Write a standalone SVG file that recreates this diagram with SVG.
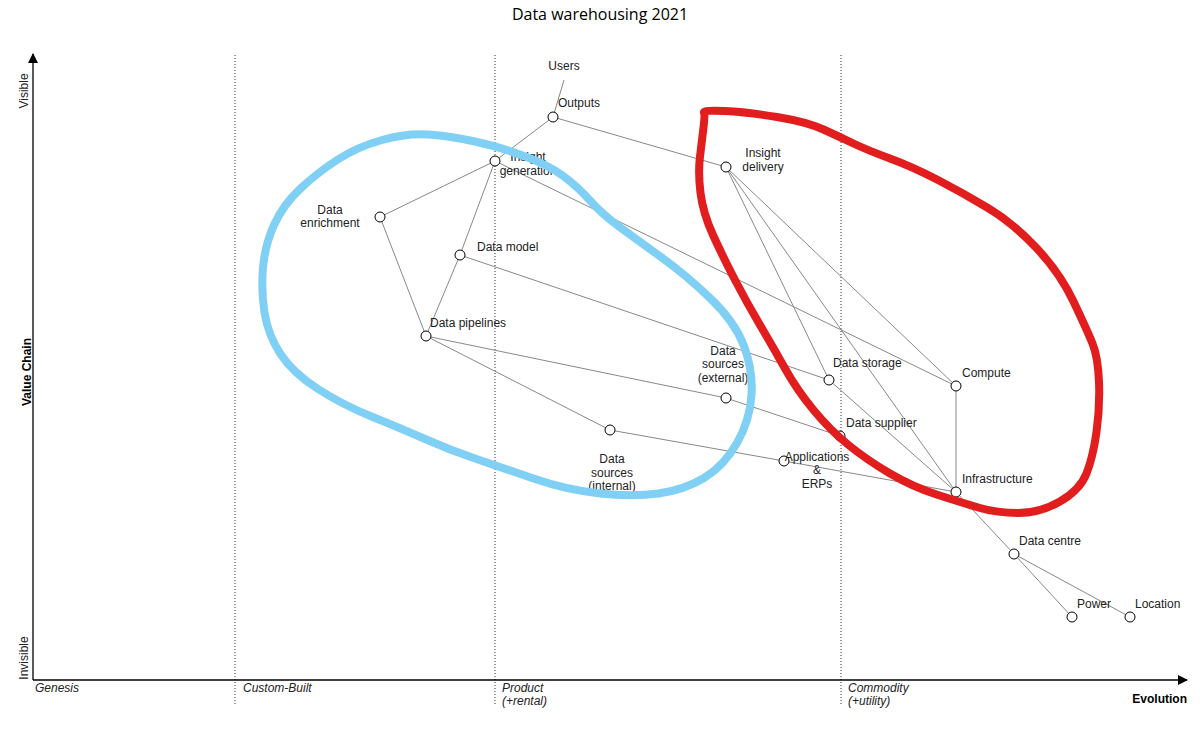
<svg xmlns="http://www.w3.org/2000/svg" width="1200" height="731" viewBox="0 0 1200 731">
<style>
  .lbl { font-family: "Liberation Sans", Arial, sans-serif; font-size: 12px; fill: #222; }
  .mid { text-anchor: middle; }
  .ax { font-family: "Liberation Sans", Arial, sans-serif; font-size: 12px; fill: #222; font-style: italic; }
  .axb { font-family: "Liberation Sans", Arial, sans-serif; font-size: 12px; fill: #000; font-weight: bold; }
  .edge { stroke: #888; stroke-width: 1; fill: none; }
  .node { fill: #fff; stroke: #000; stroke-width: 1; }
  .dot { stroke: #333; stroke-width: 1; stroke-dasharray: 1 2; fill: none; }
  .axis { stroke: #000; stroke-width: 1.3; fill: none; }
</style>
<defs>
  <marker id="arr" viewBox="0 0 10 10" refX="9" refY="5" markerWidth="10" markerHeight="10" markerUnits="userSpaceOnUse" orient="auto">
    <path d="M0,0 L10,5 L0,10 Z" fill="#000"/>
  </marker>
</defs>
<rect width="1200" height="731" fill="#fff"/>
<text x="600" y="20" text-anchor="middle" font-family="'Open Sans', 'Noto Sans', sans-serif" font-size="16" fill="#000">Data warehousing 2021</text>

<g id="axes">
  <line class="dot" x1="235" y1="55" x2="235" y2="705"/>
  <line class="dot" x1="495" y1="55" x2="495" y2="705"/>
  <line class="dot" x1="841" y1="55" x2="841" y2="705"/>
  <line class="axis" x1="33" y1="680" x2="33" y2="54" marker-end="url(#arr)"/>
  <line class="axis" x1="33" y1="680" x2="1187" y2="680" marker-end="url(#arr)"/>
  <text class="lbl mid" transform="translate(28,91) rotate(-90)">Visible</text>
  <text class="axb" text-anchor="middle" transform="translate(31,372) rotate(-90)">Value Chain</text>
  <text class="lbl mid" transform="translate(28,658) rotate(-90)">Invisible</text>
  <text class="ax" x="35" y="692">Genesis</text>
  <text class="ax" x="243" y="692">Custom-Built</text>
  <text class="ax" x="502" y="692">Product</text>
  <text class="ax" x="502" y="705">(+rental)</text>
  <text class="ax" x="848" y="692">Commodity</text>
  <text class="ax" x="848" y="705">(+utility)</text>
  <text class="axb" x="1187" y="703" text-anchor="end">Evolution</text>
</g>

<g id="connectors">
  <line class="edge" x1="564" y1="80" x2="553" y2="117"/>
  <line class="edge" x1="553" y1="117" x2="495" y2="161"/>
  <line class="edge" x1="553" y1="117" x2="726" y2="167"/>
  <line class="edge" x1="495" y1="161" x2="380" y2="217"/>
  <line class="edge" x1="495" y1="161" x2="460" y2="255"/>
  <line class="edge" x1="495" y1="161" x2="956" y2="386"/>
  <line class="edge" x1="380" y1="217" x2="426" y2="336"/>
  <line class="edge" x1="460" y1="255" x2="426" y2="336"/>
  <line class="edge" x1="460" y1="255" x2="829" y2="380"/>
  <line class="edge" x1="426" y1="336" x2="726" y2="398"/>
  <line class="edge" x1="426" y1="336" x2="610" y2="430"/>
  <line class="edge" x1="726" y1="398" x2="840" y2="436"/>
  <line class="edge" x1="610" y1="430" x2="784" y2="461"/>
  <line class="edge" x1="784" y1="461" x2="956" y2="492"/>
  <line class="edge" x1="726" y1="167" x2="829" y2="380"/>
  <line class="edge" x1="726" y1="167" x2="956" y2="492"/>
  <line class="edge" x1="726" y1="167" x2="956" y2="386"/>
  <line class="edge" x1="829" y1="380" x2="956" y2="492"/>
  <line class="edge" x1="956" y1="386" x2="956" y2="492"/>
  <line class="edge" x1="956" y1="492" x2="1014" y2="554"/>
  <line class="edge" x1="1014" y1="554" x2="1072" y2="617"/>
  <line class="edge" x1="1014" y1="554" x2="1130" y2="617"/>
</g>

<g id="users"><text class="lbl mid" x="564" y="70">Users</text></g>
<g id="outputs"><circle class="node" cx="553" cy="117" r="5"/><text class="lbl" x="558" y="107">Outputs</text></g>
<g id="insight-generation"><circle class="node" cx="495" cy="161" r="5"/><text class="lbl mid" x="528" y="161">Insight</text><text class="lbl mid" x="528" y="175">generation</text></g>
<g id="insight-delivery"><circle class="node" cx="726" cy="167" r="5"/><text class="lbl mid" x="763" y="157">Insight</text><text class="lbl mid" x="763" y="171">delivery</text></g>
<g id="data-enrichment"><circle class="node" cx="380" cy="217" r="5"/><text class="lbl mid" x="330" y="214">Data</text><text class="lbl mid" x="330" y="227">enrichment</text></g>
<g id="data-model"><circle class="node" cx="460" cy="255" r="5"/><text class="lbl" x="477" y="251">Data model</text></g>
<g id="data-pipelines"><circle class="node" cx="426" cy="336" r="5"/><text class="lbl" x="430" y="327">Data pipelines</text></g>
<g id="data-storage"><circle class="node" cx="829" cy="380" r="5"/><text class="lbl" x="833" y="367">Data storage</text></g>
<g id="compute"><circle class="node" cx="956" cy="386" r="5"/><text class="lbl" x="962" y="377">Compute</text></g>
<g id="data-sources-external"><circle class="node" cx="726" cy="398" r="5"/><text class="lbl mid" x="723" y="355">Data</text><text class="lbl mid" x="723" y="368">sources</text><text class="lbl mid" x="723" y="382">(external)</text></g>
<g id="data-sources-internal"><circle class="node" cx="610" cy="430" r="5"/><text class="lbl mid" x="612" y="463">Data</text><text class="lbl mid" x="612" y="477">sources</text><text class="lbl mid" x="612" y="490">(internal)</text></g>
<g id="data-supplier"><circle class="node" cx="840" cy="436" r="5"/><text class="lbl" x="846" y="427">Data supplier</text></g>
<g id="applications-erps"><circle class="node" cx="784" cy="461" r="5"/><text class="lbl mid" x="817" y="461">Applications</text><text class="lbl mid" x="817" y="474">&amp;</text><text class="lbl mid" x="817" y="488">ERPs</text></g>
<g id="infrastructure"><circle class="node" cx="956" cy="492" r="5"/><text class="lbl" x="962" y="483">Infrastructure</text></g>
<g id="data-centre"><circle class="node" cx="1014" cy="554" r="5"/><text class="lbl" x="1019" y="545">Data centre</text></g>
<g id="power"><circle class="node" cx="1072" cy="617" r="5"/><text class="lbl" x="1077" y="608">Power</text></g>
<g id="location"><circle class="node" cx="1130" cy="617" r="5"/><text class="lbl" x="1135" y="608">Location</text></g>

<g id="highlights" fill="none" stroke-width="8" stroke-linejoin="round" stroke-linecap="round">
  <path stroke="#80cff5" d="M382,140 Q407,133 428.5,134.5 Q450,136 475,141.5 Q500,147 524,156 Q548,165 562.5,175.5 Q577,186 589.5,200 Q602,214 619,226.5 Q636,239 661,257 Q686,275 710.5,298.5 Q735,322 744,346 Q753,370 751.5,395 Q750,420 737,443 Q724,466 704,478 Q684,490 658.5,493.5 Q633,497 600,493.5 Q567,490 533.5,478.5 Q500,467 475,458.5 Q450,450 425,439 Q400,428 371.5,416.5 Q343,405 318,389 Q293,373 280.5,354 Q268,335 264.5,312.5 Q261,290 263,267.5 Q265,245 274,225 Q283,205 300,189 Q317,173 337,160 Q357,147 382,140 Z"/>
  <path stroke="#e11d1d" d="M704,112.5 Q703,110 725,111 Q747,112 777,117 Q807,122 823.5,129.5 Q840,137 853.5,143.5 Q867,150 890,158.5 Q913,167 938,180 Q963,193 988,208 Q1013,223 1036.5,248 Q1060,273 1073.5,301.5 Q1087,330 1092.5,343.5 Q1098,357 1099,382 Q1100,407 1096.5,432 Q1093,457 1086.5,473.5 Q1080,490 1060,501.5 Q1040,513 1018.5,513 Q997,513 980,508 Q963,503 938,495 Q913,487 890,473.5 Q867,460 848.5,445 Q830,430 813.5,410 Q797,390 785,368.5 Q773,347 760,325 Q747,303 735,280 Q723,257 713,235 Q703,213 700.5,193 Q698,173 700,156.5 Q702,140 703.5,127.5 Q705,115 704,112.5 Z"/>
</g>
</svg>
